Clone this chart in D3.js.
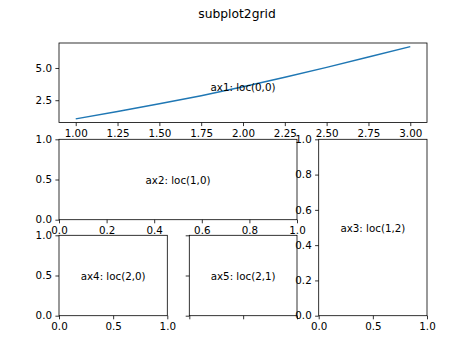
<!DOCTYPE html>
<html lang="en">
<head>
    <meta charset="UTF-8">
    <title>subplot2grid</title>
    <script src="https://d3js.org/d3.v7.min.js"></script>
    <style>
        body { margin: 0; background: #fff; }
        svg { display: block; }
        text { font-family: "DejaVu Sans", sans-serif; fill: #000; }
        .tick text { font-size: 10.3px; }
        .tick line, .domain { stroke: #000; stroke-width: 0.8px; }
    </style>
</head>
<body>
<svg width="474" height="355"></svg>
<script>
    // ax1 line data
    var lineX = [1.0, 1.25, 1.5, 1.75, 2.0, 2.25, 2.5, 2.75, 3.0];
    var lineY = [1.05, 1.62, 2.22, 2.85, 3.55, 4.28, 5.05, 5.85, 6.66];

    var ax1XTicks = [1.0, 1.25, 1.5, 1.75, 2.0, 2.25, 2.5, 2.75, 3.0];
    var ax1YTicks = [2.5, 5.0];
    var fifthTicks = [0, 0.2, 0.4, 0.6, 0.8, 1.0];
    var halfTicks = [0, 0.5, 1.0];

    var svg = d3.select('svg');

    svg.append('text')
        .attr('x', 237).attr('y', 14)
        .attr('text-anchor', 'middle')
        .attr('dominant-baseline', 'central')
        .style('font-size', '12.3px')
        .text('subplot2grid');

    // axes boxes: left, top, right, bottom
    var boxes = [
        {name: 'ax1: loc(0,0)', l: 59, t: 43, r: 427, b: 122.5},
        {name: 'ax2: loc(1,0)', l: 59, t: 139.3, r: 297, b: 219.7},
        {name: 'ax3: loc(1,2)', l: 318.7, t: 139.3, r: 427, b: 315.7},
        {name: 'ax4: loc(2,0)', l: 59, t: 235.3, r: 167.3, b: 315.7},
        {name: 'ax5: loc(2,1)', l: 189.3, t: 235.3, r: 297, b: 315.7}
    ];

    function pad(lo, hi) {
        var m = (hi - lo) * 0.05;
        return [lo - m, hi + m];
    }

    var opts = [
        {x: pad(d3.min(lineX), d3.max(lineX)), y: pad(d3.min(lineY), d3.max(lineY)),
            xt: ax1XTicks, yt: ax1YTicks, xf: d3.format('.2f'), yf: d3.format('.1f')},
        {x: [0, 1], y: [0, 1], xt: fifthTicks, yt: halfTicks, xf: d3.format('.1f'), yf: d3.format('.1f')},
        {x: [0, 1], y: [0, 1], xt: halfTicks, yt: fifthTicks, xf: d3.format('.1f'), yf: d3.format('.1f')},
        {x: [0, 1], y: [0, 1], xt: halfTicks, yt: halfTicks, xf: d3.format('.1f'), yf: d3.format('.1f')},
        {x: [0, 1], y: [0, 1], xt: halfTicks, yt: halfTicks, xf: function () { return ''; }, yf: function () { return ''; }}
    ];

    boxes.forEach(function (bx, i) {
        var o = opts[i];
        var x = d3.scaleLinear().domain(o.x).range([bx.l, bx.r]);
        var y = d3.scaleLinear().domain(o.y).range([bx.b, bx.t]);
        var g = svg.append('g');

        if (i === 0) {
            g.append('path')
                .datum(d3.range(lineX.length))
                .attr('d', d3.line()
                    .x(function (k) { return x(lineX[k]); })
                    .y(function (k) { return y(lineY[k]); }))
                .style('fill', 'none')
                .style('stroke', '#1f77b4')
                .style('stroke-width', '1.5px');
        }

        g.append('g')
            .attr('transform', 'translate(0,' + bx.b + ')')
            .call(d3.axisBottom(x).tickValues(o.xt).tickFormat(o.xf).tickSize(3.6).tickPadding(3.4))
            .select('.domain').remove();
        g.append('g')
            .attr('transform', 'translate(' + bx.l + ',0)')
            .call(d3.axisLeft(y).tickValues(o.yt).tickFormat(o.yf).tickSize(3.6).tickPadding(3.4))
            .select('.domain').remove();

        g.append('rect')
            .attr('x', bx.l).attr('y', bx.t)
            .attr('width', bx.r - bx.l).attr('height', bx.b - bx.t)
            .style('fill', 'none').style('stroke', '#000').style('stroke-width', '0.8px');

        g.append('text')
            .attr('x', (bx.l + bx.r) / 2)
            .attr('y', i === 0 ? (bx.t + bx.b) / 2 + 4.6 : (bx.t + bx.b) / 2)
            .attr('text-anchor', 'middle')
            .attr('dominant-baseline', 'central')
            .style('font-size', '10.3px')
            .text(bx.name);
    });
</script>
</body>
</html>
